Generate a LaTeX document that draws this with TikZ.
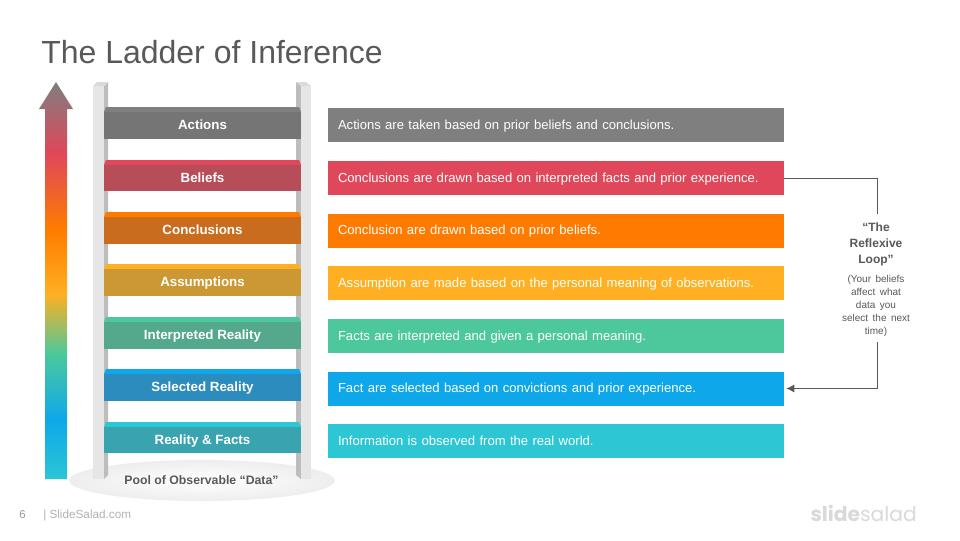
\documentclass[tikz,border=0pt]{standalone}
\usepackage{fontspec}
\setmainfont{Liberation Sans}
\newfontfamily\logofont{Poppins}
\newfontfamily\barfont[WordSpace=1.5]{Liberation Sans}
\usetikzlibrary{arrows.meta,calc}
\definecolor{cgray}{HTML}{7F7F7F}\definecolor{cred}{HTML}{E0475A}\definecolor{corange}{HTML}{FF7B00}
\definecolor{cyellow}{HTML}{FEB022}\definecolor{cgreen}{HTML}{4CC89C}\definecolor{cblue}{HTML}{0EA8EA}\definecolor{cteal}{HTML}{2CC6D4}
\definecolor{fgray}{HTML}{757575}\definecolor{fred}{HTML}{B84D5A}\definecolor{forange}{HTML}{C96C1E}
\definecolor{fyellow}{HTML}{CB9833}\definecolor{fgreen}{HTML}{54A88C}\definecolor{fblue}{HTML}{2B8CBD}\definecolor{fteal}{HTML}{3AA3B0}
\definecolor{ink}{HTML}{595959}\definecolor{railL}{HTML}{E6E6E6}\definecolor{railD}{HTML}{BDBDBD}
\pgfdeclareverticalshading{up}{100bp}{
 color(0bp)=(cteal); color(25bp)=(cteal); color(32.5bp)=(cblue); color(40.75bp)=(cgreen); color(48.25bp)=(cyellow);
 color(56.5bp)=(corange); color(66bp)=(cred); color(75bp)=(cgray); color(100bp)=(cgray)}
\pgfdeclareradialshading{pool}{\pgfpoint{0bp}{0bp}}{color(0bp)=(white); color(25bp)=(railL!70); color(50bp)=(railL!80)}
\tikzset{
 x=0.75pt,y=-0.75pt,
 rungbox/.style={minimum width=147.75pt,minimum height=20.25pt,inner sep=0pt,text=white,text height=8.5pt,text depth=2pt,font=\bfseries\fontsize{10}{12}\selectfont},
 infobar/.style={minimum width=342pt,minimum height=25.5pt,inner sep=0pt,inner xsep=7.5pt,text=white,text width=327pt,align=left,text height=8.5pt,text depth=2pt,font=\barfont\fontsize{9.8}{12}\selectfont},
 loopline/.style={draw=ink,line width=0.6pt},
}
\newcommand{\rung}[6]{% name, y-top of strip, y-bottom, top colour, front colour, text
 \fill[#4] (104,#2+5) -- (106,#2) -- (299,#2) -- (301,#2+5) -- cycle;
 \node[rungbox,fill=#5,minimum height={(#3-#2-5)*0.75pt}] (#1) at (202.5,{(#2+5+#3)/2}) {#6};
}
\begin{document}
\begin{tikzpicture}
\useasboundingbox (0,0) rectangle (960,540);
\fill[white] (0,0) rectangle (960,540);
% title
\node[anchor=base west,inner sep=0pt,text=ink,font=\fontsize{24}{28}\selectfont] (title) at (41,63) {The Ladder of Inference};
% arrow
\shade[shading=up] (45,479) -- (45,109) -- (39,109) -- (56,82) -- (73,109) -- (67,109) -- (67,479) -- cycle;
% pool
\shade[shading=pool] (202,480.5) ellipse [x radius=133,y radius=20.5];
% rails
\fill[railL] (93,86) -- (104,86) -- (104,479) -- (93,479) -- cycle;
\fill[railD] (104,86) -- (108,82) -- (108,475) -- (104,479) -- cycle;
\fill[railL!70!railD] (93,86) -- (97,82) -- (108,82) -- (104,86) -- cycle;
\fill[railD] (296,82) -- (301,86) -- (301,479) -- (296,475) -- cycle;
\fill[railL] (301,86) -- (311,86) -- (311,479) -- (301,479) -- cycle;
\fill[railL!70!railD] (296,82) -- (306,82) -- (311,86) -- (301,86) -- cycle;
% rungs
\rung{r1}{107}{139}{cgray}{fgray}{Actions}
\rung{r2}{160}{191}{cred}{fred}{Beliefs}
\rung{r3}{212}{244}{corange}{forange}{Conclusions}
\rung{r4}{264}{296}{cyellow}{fyellow}{Assumptions}
\rung{r5}{317}{349}{cgreen}{fgreen}{Interpreted Reality}
\rung{r6}{369}{401}{cblue}{fblue}{Selected Reality}
\rung{r7}{422}{453}{cteal}{fteal}{Reality \& Facts}
\node[text=ink,inner sep=0pt,font=\bfseries\fontsize{9.2}{11}\selectfont] (pooltext) at (201.5,480.5) {Pool of Observable “Data”};
% bars
\node[infobar,fill=cgray] (b1) at (556,125) {Actions are taken based on prior beliefs and conclusions.};
\node[infobar,fill=cred] (b2) at (556,178) {Conclusions are drawn based on interpreted facts and prior experience.};
\node[infobar,fill=corange] (b3) at (556,230.5) {Conclusion are drawn based on prior beliefs.};
\node[infobar,fill=cyellow] (b4) at (556,283) {Assumption are made based on the personal meaning of observations.};
\node[infobar,fill=cgreen] (b5) at (556,336) {Facts are interpreted and given a personal meaning.};
\node[infobar,fill=cblue] (b6) at (556,388.5) {Fact are selected based on convictions and prior experience.};
\node[infobar,fill=cteal] (b7) at (556,441) {Information is observed from the real world.};
% loop
\node[inner sep=0pt,text width=60pt,align=center,text=ink] (loop) at (876,280) {%
 {\bfseries\fontsize{9}{12}\selectfont “The\\ Reflexive\\ Loop”\par}\vspace{4.5pt}
 {\fontsize{7.5}{9.75}\selectfont (Your beliefs\\ affect what\\ data you\\ select the next\\ time)\par}};
\coordinate (loopTop) at (877,214);
\coordinate (loopBottom) at (877,342);
\draw[loopline] (b2.east) -| (loopTop);
\draw[loopline,-{Latex[length=6pt,width=6pt]},shorten >=1.5pt] (loopBottom) |- (b6.east);
% footer
\node[anchor=base west,inner sep=0pt,text=black!40,font=\fontsize{8.5}{10}\selectfont] (pg) at (19,518) {6};
\node[anchor=base west,inner sep=0pt,text=black!30,font=\fontsize{8.8}{10}\selectfont] (site) at (43,518) {| SlideSalad.com};
\node[anchor=base east,inner sep=0pt,text=black!15,font=\logofont\fontsize{15.2}{20}\selectfont] (logo) at (917,521) {{\bfseries slide}salad};
\end{tikzpicture}
\end{document}
